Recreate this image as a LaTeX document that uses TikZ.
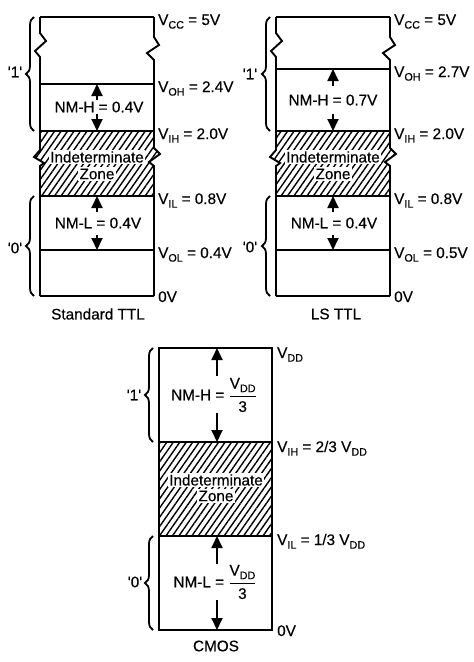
\documentclass[tikz,border=0pt]{standalone}
\usepackage{fontspec}
\setmainfont{Liberation Sans}[FakeBold=0.4]
\usepackage{amsmath}
\usetikzlibrary{decorations.pathreplacing,patterns.meta,arrows.meta}

\newcommand\sbs[1]{\raisebox{-3.6pt}{\fontsize{10.8}{10.8}\selectfont #1}}
\newcommand\qt[1]{\textquotesingle#1\textquotesingle}
\newcommand\nmfrac{$\genfrac{}{}{1.3pt}{0}{\text{V\sbs{DD}}}{\text{3}}$}

\newcommand\ttlhatch{%
  \fill[hatch] (40,131) -- (154,131) -- (154,148) -- (160,154) -- (149,162) -- (154,166) -- (154,196)
     -- (40,196) -- (40,166) -- (44,163) -- (34,157) -- (40,150) -- cycle;}
\newcommand\ttllines[1]{%
  \draw[box] (40,17) -- (40,33) -- (46,41) -- (35,51) -- (40,57) -- (40,150) -- (34,157) -- (44,163) -- (40,166) -- (40,296);
  \draw[box] (154,17) -- (154,37) -- (159,45) -- (147,53) -- (154,60) -- (154,148) -- (160,154) -- (149,162) -- (154,166) -- (154,296);
  \foreach \yy in {17,#1,131,196,250,296} {\draw[box] (40,\yy) -- (154,\yy);}
  \draw[brc] (34,131) -- (34,17);
  \draw[brc] (34,296) -- (34,196);}

\begin{document}
\begin{tikzpicture}[x=1pt,y=-1pt,
  every node/.style={font=\fontsize{15.3}{18}\selectfont, inner sep=0pt},
  box/.style={line width=1.9pt, line join=miter},
  hatch/.style={pattern={Lines[angle=55,distance=5.3pt,line width=1.4pt]}},
  lab/.style={anchor=base west},
  brc/.style={line width=1.8pt, decorate, decoration={brace,amplitude=8pt}},
  dim/.style={line width=1.8pt, -{Triangle[width=11pt,length=12pt]}},
  wt/.style={fill=white, inner sep=1.2pt},
]
\useasboundingbox (0,0) rectangle (474,662);

% ---------- Standard TTL ----------
\ttlhatch
\node[wt] (s-ind) at (97,157) {Indeterminate};
\node[wt] (s-zone) at (97,174) {Zone};
\ttllines{84}
\node (s-nmh) at (99,107) {NM-H = 0.4V};
\node (s-nml) at (98,223) {NM-L = 0.4V};
\coordinate (s-h1) at (97,100); \coordinate (s-h1t) at (97,84);
\coordinate (s-h2) at (97,114); \coordinate (s-h2t) at (97,131);
\coordinate (s-l1) at (97,212); \coordinate (s-l1t) at (97,196);
\coordinate (s-l2) at (97,235); \coordinate (s-l2t) at (97,250);
\draw[dim] (s-h1) -- (s-h1t); \draw[dim] (s-h2) -- (s-h2t);
\draw[dim] (s-l1) -- (s-l1t); \draw[dim] (s-l2) -- (s-l2t);
\node (s-one) at (15,72) {\qt{1}};
\node (s-zero) at (15,248) {\qt{0}};
\node[lab] (s-vcc) at (158,25) {V\sbs{CC} = 5V};
\node[lab] (s-voh) at (158,92) {V\sbs{OH} = 2.4V};
\node[lab] (s-vih) at (158,139) {V\sbs{IH} = 2.0V};
\node[lab] (s-vil) at (158,204) {V\sbs{IL} = 0.8V};
\node[lab] (s-vol) at (158,258) {V\sbs{OL} = 0.4V};
\node[lab] (s-0v) at (158,302) {0V};
\node (s-title) at (98,314) {Standard TTL};

% ---------- LS TTL ----------
\begin{scope}[xshift=236pt]
\ttlhatch
\node[wt] (l-ind) at (97,157) {Indeterminate};
\node[wt] (l-zone) at (97,174) {Zone};
\ttllines{69}
\end{scope}
\node (l-nmh) at (333,100) {NM-H = 0.7V};
\node (l-nml) at (334,223) {NM-L = 0.4V};
\coordinate (l-h1) at (333,86); \coordinate (l-h1t) at (333,69);
\coordinate (l-h2) at (333,114); \coordinate (l-h2t) at (333,131);
\coordinate (l-l1) at (333,212); \coordinate (l-l1t) at (333,196);
\coordinate (l-l2) at (333,235); \coordinate (l-l2t) at (333,250);
\draw[dim] (l-h1) -- (l-h1t); \draw[dim] (l-h2) -- (l-h2t);
\draw[dim] (l-l1) -- (l-l1t); \draw[dim] (l-l2) -- (l-l2t);
\node (l-one) at (250,74) {\qt{1}};
\node (l-zero) at (250,247) {\qt{0}};
\node[lab] (l-vcc) at (394,25) {V\sbs{CC} = 5V};
\node[lab] (l-voh) at (394,77) {V\sbs{OH} = 2.7V};
\node[lab] (l-vih) at (394,139) {V\sbs{IH} = 2.0V};
\node[lab] (l-vil) at (394,204) {V\sbs{IL} = 0.8V};
\node[lab] (l-vol) at (394,258) {V\sbs{OL} = 0.5V};
\node[lab] (l-0v) at (394,302) {0V};
\node (l-title) at (336,314) {LS TTL};

% ---------- CMOS ----------
\fill[hatch] (159,442) rectangle (272,536);
\node[wt] (c-ind) at (216,480) {Indeterminate};
\node[wt] (c-zone) at (216,496) {Zone};
\draw[box] (159,348) rectangle (272,630);
\draw[box] (159,442) -- (272,442);
\draw[box] (159,536) -- (272,536);
\draw[brc] (153,442) -- (153,348);
\draw[brc] (153,630) -- (153,536);
\node (c-nmh) at (214,395) {NM-H = \nmfrac};
\node (c-nml) at (215,582) {NM-L = \nmfrac};
\coordinate (c-h1) at (217,376); \coordinate (c-h1t) at (217,348);
\coordinate (c-h2) at (217,413); \coordinate (c-h2t) at (217,442);
\coordinate (c-l1) at (217,564); \coordinate (c-l1t) at (217,536);
\coordinate (c-l2) at (217,600); \coordinate (c-l2t) at (217,630);
\draw[dim] (c-h1) -- (c-h1t); \draw[dim] (c-h2) -- (c-h2t);
\draw[dim] (c-l1) -- (c-l1t); \draw[dim] (c-l2) -- (c-l2t);
\node (c-one) at (134,395) {\qt{1}};
\node (c-zero) at (135,582) {\qt{0}};
\node[lab] (c-vdd) at (277,358) {V\sbs{DD}};
\node[lab] (c-vih) at (277,452) {V\sbs{IH} = 2/3 V\sbs{DD}};
\node[lab] (c-vil) at (277,545) {V\sbs{IL} = 1/3 V\sbs{DD}};
\node[lab] (c-0v) at (277,636) {0V};
\node (c-title) at (216,646) {CMOS};
\end{tikzpicture}
\end{document}
